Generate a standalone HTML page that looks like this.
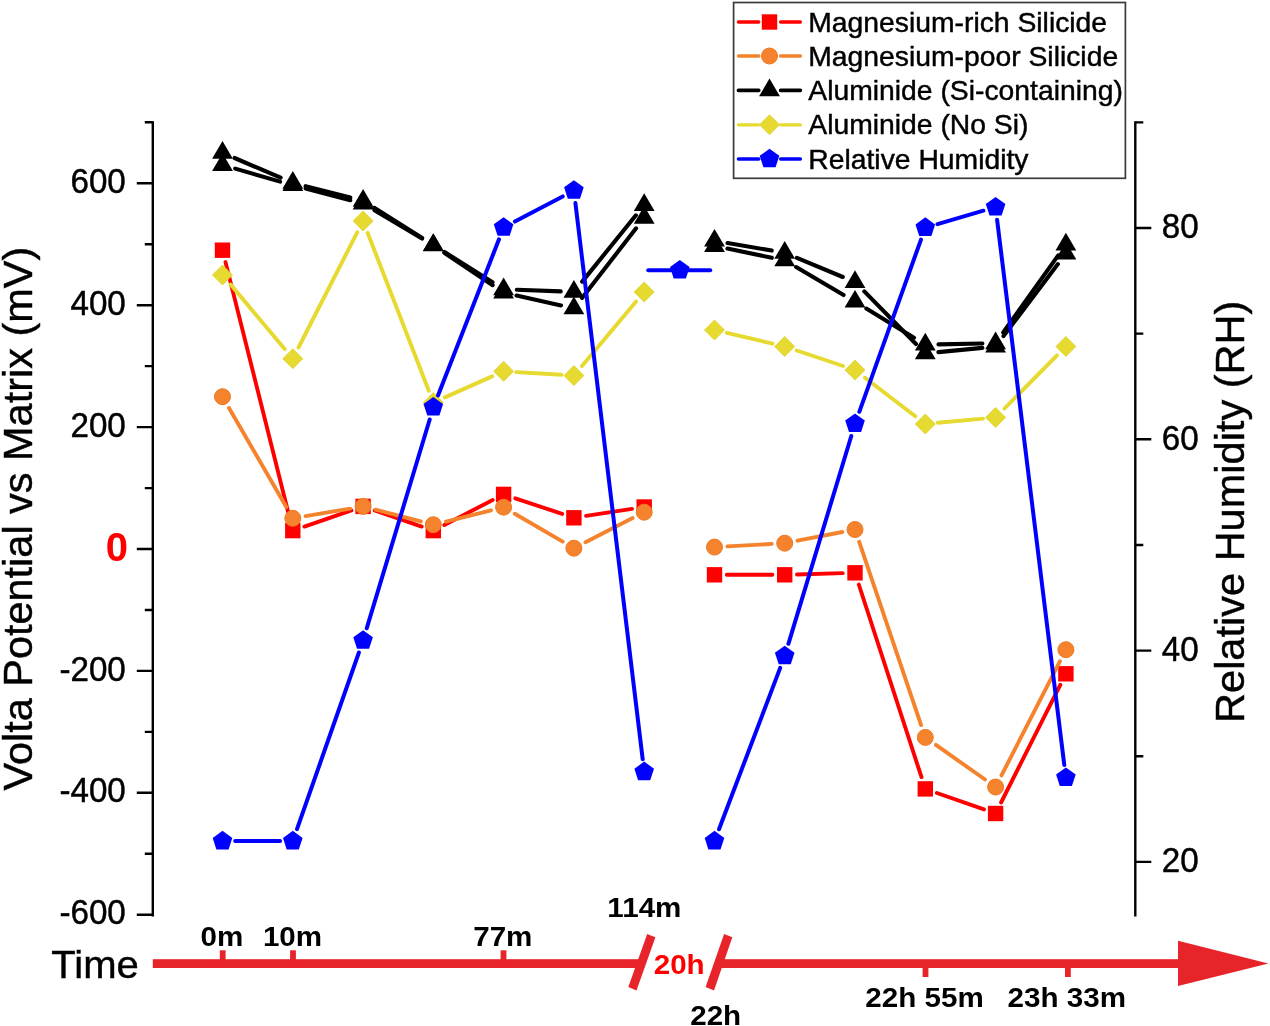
<!DOCTYPE html>
<html lang="en"><head><meta charset="utf-8"><title>Volta Potential vs Relative Humidity</title>
<style>html,body{margin:0;padding:0;background:#fff}svg{display:block}</style></head>
<body>
<svg width="1270" height="1026" viewBox="0 0 1270 1026" font-family='"Liberation Sans", sans-serif'>
<style>.t{stroke:#000;stroke-width:.45px;paint-order:stroke}</style>
<rect width="1270" height="1026" fill="#fff"/>
<g>
<path d="M225.5 262.1L289.8 518.7M304.4 526.6L351.4 510.4M374.7 510.4L421.7 526.6M444.3 525.0L492.7 500.0M515.3 498.3L562.2 513.9M586.1 515.9L632.0 508.9" stroke="#ff0000" stroke-width="3.9" fill="none" stroke-linecap="round"/>
<path d="M726.8 574.8L772.4 574.8M797.0 574.5L842.7 573.1M858.8 584.5L921.5 777.2M936.9 793.0L984.0 809.4M1001.1 802.5L1060.3 684.8" stroke="#ff0000" stroke-width="3.9" fill="none" stroke-linecap="round"/>
<rect x="214.8" y="242.5" width="15.4" height="15.4" fill="#ff0000"/>
<rect x="285.1" y="522.9" width="15.4" height="15.4" fill="#ff0000"/>
<rect x="355.4" y="498.7" width="15.4" height="15.4" fill="#ff0000"/>
<rect x="425.6" y="522.9" width="15.4" height="15.4" fill="#ff0000"/>
<rect x="495.9" y="486.7" width="15.4" height="15.4" fill="#ff0000"/>
<rect x="566.2" y="510.1" width="15.4" height="15.4" fill="#ff0000"/>
<rect x="636.5" y="499.3" width="15.4" height="15.4" fill="#ff0000"/>
<rect x="706.8" y="567.1" width="15.4" height="15.4" fill="#ff0000"/>
<rect x="777.0" y="567.1" width="15.4" height="15.4" fill="#ff0000"/>
<rect x="847.3" y="565.1" width="15.4" height="15.4" fill="#ff0000"/>
<rect x="917.6" y="781.2" width="15.4" height="15.4" fill="#ff0000"/>
<rect x="987.9" y="805.8" width="15.4" height="15.4" fill="#ff0000"/>
<rect x="1058.2" y="666.1" width="15.4" height="15.4" fill="#ff0000"/>
</g>
<g>
<path d="M229.0 408.0L286.3 507.0M305.6 516.1L350.2 508.6M375.6 509.7L420.8 521.4M446.0 521.6L491.0 510.3M514.8 513.8L562.7 541.6M585.5 542.3L632.6 518.1" stroke="#f5832d" stroke-width="3.9" fill="none" stroke-linecap="round"/>
<path d="M727.4 546.4L771.8 543.9M797.5 540.7L842.3 532.0M859.2 541.8L921.1 725.1M935.9 744.9L985.0 779.5M1001.5 775.4L1059.9 661.3" stroke="#f5832d" stroke-width="3.9" fill="none" stroke-linecap="round"/>
<circle cx="222.5" cy="396.7" r="8" fill="#f5832d" stroke="#ee7a22" stroke-width="1"/>
<circle cx="292.8" cy="518.3" r="8" fill="#f5832d" stroke="#ee7a22" stroke-width="1"/>
<circle cx="363.1" cy="506.4" r="8" fill="#f5832d" stroke="#ee7a22" stroke-width="1"/>
<circle cx="433.3" cy="524.7" r="8" fill="#f5832d" stroke="#ee7a22" stroke-width="1"/>
<circle cx="503.6" cy="507.2" r="8" fill="#f5832d" stroke="#ee7a22" stroke-width="1"/>
<circle cx="573.9" cy="548.2" r="8" fill="#f5832d" stroke="#ee7a22" stroke-width="1"/>
<circle cx="644.2" cy="512.2" r="8" fill="#f5832d" stroke="#ee7a22" stroke-width="1"/>
<circle cx="714.5" cy="547.1" r="8" fill="#f5832d" stroke="#ee7a22" stroke-width="1"/>
<circle cx="784.7" cy="543.2" r="8" fill="#f5832d" stroke="#ee7a22" stroke-width="1"/>
<circle cx="855.0" cy="529.5" r="8" fill="#f5832d" stroke="#ee7a22" stroke-width="1"/>
<circle cx="925.3" cy="737.4" r="8" fill="#f5832d" stroke="#ee7a22" stroke-width="1"/>
<circle cx="995.6" cy="787.0" r="8" fill="#f5832d" stroke="#ee7a22" stroke-width="1"/>
<circle cx="1065.9" cy="649.7" r="8" fill="#f5832d" stroke="#ee7a22" stroke-width="1"/>
</g>
<g>
<path d="M235.2 168.6L280.1 181.6M305.6 188.5L350.3 200.2M374.4 210.2L422.0 238.6M444.3 252.7L492.7 285.2M516.5 295.5L561.0 305.4M582.0 297.9L636.1 228.3" stroke="#000" stroke-width="4.1" fill="none" stroke-linecap="round"/>
<path d="M727.4 248.6L771.8 257.8M796.1 267.1L843.6 295.0M866.3 308.6L914.0 337.7M938.5 344.4L982.4 343.5M1003.2 332.5L1058.2 255.4" stroke="#000" stroke-width="4.1" fill="none" stroke-linecap="round"/>
<polygon points="222.5,153.2 232.9,170.9 212.1,170.9" fill="#000"/>
<polygon points="292.8,173.4 303.2,191.1 282.4,191.1" fill="#000"/>
<polygon points="363.1,191.7 373.5,209.4 352.7,209.4" fill="#000"/>
<polygon points="433.3,233.5 443.7,251.2 422.9,251.2" fill="#000"/>
<polygon points="503.6,280.8 514.0,298.5 493.2,298.5" fill="#000"/>
<polygon points="573.9,296.5 584.3,314.2 563.5,314.2" fill="#000"/>
<polygon points="644.2,206.1 654.6,223.8 633.8,223.8" fill="#000"/>
<polygon points="714.5,234.2 724.9,251.9 704.1,251.9" fill="#000"/>
<polygon points="784.7,248.6 795.1,266.3 774.3,266.3" fill="#000"/>
<polygon points="855.0,289.9 865.4,307.6 844.6,307.6" fill="#000"/>
<polygon points="925.3,332.8 935.7,350.5 914.9,350.5" fill="#000"/>
<polygon points="995.6,331.5 1006.0,349.2 985.2,349.2" fill="#000"/>
<polygon points="1065.9,232.8 1076.3,250.5 1055.5,250.5" fill="#000"/>
</g>
<g>
<path d="M234.6 158.0L280.6 177.7M305.6 186.2L350.3 197.5M374.2 207.8L422.2 238.0M444.5 252.0L492.5 282.3M516.8 289.8L560.7 291.4M582.2 281.6L635.9 215.3" stroke="#000" stroke-width="4.1" fill="none" stroke-linecap="round"/>
<path d="M727.5 243.0L771.7 250.6M796.9 257.9L842.8 277.0M864.3 291.4L916.0 344.0M938.4 352.1L982.4 347.9M1003.5 336.1L1057.9 264.1" stroke="#000" stroke-width="4.1" fill="none" stroke-linecap="round"/>
<polygon points="222.5,141.0 232.9,158.7 212.1,158.7" fill="#000"/>
<polygon points="292.8,171.1 303.2,188.8 282.4,188.8" fill="#000"/>
<polygon points="363.1,189.0 373.5,206.7 352.7,206.7" fill="#000"/>
<polygon points="433.3,233.2 443.7,250.9 422.9,250.9" fill="#000"/>
<polygon points="503.6,277.5 514.0,295.2 493.2,295.2" fill="#000"/>
<polygon points="573.9,280.1 584.3,297.8 563.5,297.8" fill="#000"/>
<polygon points="644.2,193.2 654.6,210.9 633.8,210.9" fill="#000"/>
<polygon points="714.5,228.9 724.9,246.6 704.1,246.6" fill="#000"/>
<polygon points="784.7,241.1 795.1,258.8 774.3,258.8" fill="#000"/>
<polygon points="855.0,270.2 865.4,287.9 844.6,287.9" fill="#000"/>
<polygon points="925.3,341.6 935.7,359.3 914.9,359.3" fill="#000"/>
<polygon points="995.6,334.8 1006.0,352.5 985.2,352.5" fill="#000"/>
<polygon points="1065.9,241.8 1076.3,259.5 1055.5,259.5" fill="#000"/>
</g>
<g>
<path d="M230.6 284.6L284.7 349.1M298.5 347.5L357.3 232.2M367.6 232.7L428.8 390.8M444.9 397.4L492.1 376.4M516.2 372.1L561.3 374.8M582.0 366.0L636.1 301.6" stroke="#e6d92f" stroke-width="3.9" fill="none" stroke-linecap="round"/>
<path d="M726.7 332.9L772.5 343.6M796.7 350.5L843.1 366.0M865.0 377.7L915.3 416.3M937.8 422.8L983.0 418.6M1004.5 408.5L1057.0 355.4" stroke="#e6d92f" stroke-width="3.9" fill="none" stroke-linecap="round"/>
<polygon points="222.5,265.0 232.5,275.0 222.5,285.0 212.5,275.0" fill="#e6d92f" stroke="#dfd127" stroke-width="0.8"/>
<polygon points="292.8,348.7 302.8,358.7 292.8,368.7 282.8,358.7" fill="#e6d92f" stroke="#dfd127" stroke-width="0.8"/>
<polygon points="363.1,211.0 373.1,221.0 363.1,231.0 353.1,221.0" fill="#e6d92f" stroke="#dfd127" stroke-width="0.8"/>
<polygon points="433.3,392.5 443.3,402.5 433.3,412.5 423.3,402.5" fill="#e6d92f" stroke="#dfd127" stroke-width="0.8"/>
<polygon points="503.6,361.3 513.6,371.3 503.6,381.3 493.6,371.3" fill="#e6d92f" stroke="#dfd127" stroke-width="0.8"/>
<polygon points="573.9,365.6 583.9,375.6 573.9,385.6 563.9,375.6" fill="#e6d92f" stroke="#dfd127" stroke-width="0.8"/>
<polygon points="644.2,282.0 654.2,292.0 644.2,302.0 634.2,292.0" fill="#e6d92f" stroke="#dfd127" stroke-width="0.8"/>
<polygon points="714.5,320.0 724.5,330.0 714.5,340.0 704.5,330.0" fill="#e6d92f" stroke="#dfd127" stroke-width="0.8"/>
<polygon points="784.7,336.5 794.7,346.5 784.7,356.5 774.7,346.5" fill="#e6d92f" stroke="#dfd127" stroke-width="0.8"/>
<polygon points="855.0,360.0 865.0,370.0 855.0,380.0 845.0,370.0" fill="#e6d92f" stroke="#dfd127" stroke-width="0.8"/>
<polygon points="925.3,414.0 935.3,424.0 925.3,434.0 915.3,424.0" fill="#e6d92f" stroke="#dfd127" stroke-width="0.8"/>
<polygon points="995.6,407.4 1005.6,417.4 995.6,427.4 985.6,417.4" fill="#e6d92f" stroke="#dfd127" stroke-width="0.8"/>
<polygon points="1065.9,336.5 1075.9,346.5 1065.9,356.5 1055.9,346.5" fill="#e6d92f" stroke="#dfd127" stroke-width="0.8"/>
</g>
<g>
<path d="M235.2 841.1L280.1 841.1M297.0 829.1L358.9 652.5M366.7 628.3L429.7 419.5M438.0 395.5L499.0 239.3M514.9 221.6L562.7 196.4M575.4 203.1L642.7 759.3" stroke="#0000ff" stroke-width="4.0" fill="none" stroke-linecap="round"/>
<path d="M719.0 829.2L780.2 667.9M788.4 643.8L851.3 436.0M859.3 411.8L921.0 239.6M937.5 224.1L983.4 210.7M997.1 219.8L1064.3 765.1" stroke="#0000ff" stroke-width="4.0" fill="none" stroke-linecap="round"/>
<polygon points="222.5,830.8 232.3,837.9 228.6,849.4 216.4,849.4 212.7,837.9" fill="#0000ff"/>
<polygon points="292.8,830.8 302.6,837.9 298.8,849.4 286.7,849.4 283.0,837.9" fill="#0000ff"/>
<polygon points="363.1,630.2 372.9,637.3 369.1,648.8 357.0,648.8 353.3,637.3" fill="#0000ff"/>
<polygon points="433.3,397.0 443.1,404.1 439.4,415.6 427.3,415.6 423.5,404.1" fill="#0000ff"/>
<polygon points="503.6,217.2 513.4,224.3 509.7,235.8 497.6,235.8 493.8,224.3" fill="#0000ff"/>
<polygon points="573.9,180.2 583.7,187.3 580.0,198.8 567.8,198.8 564.1,187.3" fill="#0000ff"/>
<polygon points="644.2,761.6 654.0,768.7 650.2,780.2 638.1,780.2 634.4,768.7" fill="#0000ff"/>
<polygon points="714.5,830.8 724.3,837.9 720.5,849.4 708.4,849.4 704.7,837.9" fill="#0000ff"/>
<polygon points="784.7,645.7 794.5,652.8 790.8,664.3 778.7,664.3 774.9,652.8" fill="#0000ff"/>
<polygon points="855.0,413.5 864.8,420.6 861.1,432.1 849.0,432.1 845.2,420.6" fill="#0000ff"/>
<polygon points="925.3,217.3 935.1,224.4 931.4,235.9 919.2,235.9 915.5,224.4" fill="#0000ff"/>
<polygon points="995.6,196.9 1005.4,204.0 1001.6,215.5 989.5,215.5 985.8,204.0" fill="#0000ff"/>
<polygon points="1065.9,767.4 1075.7,774.5 1071.9,786.0 1059.8,786.0 1056.1,774.5" fill="#0000ff"/>
</g>
<path d="M648.3 270.3H710.2" stroke="#0000ff" stroke-width="4.1" stroke-linecap="round"/>
<polygon points="679.8,260.0 689.6,267.1 685.9,278.6 673.7,278.6 670.0,267.1" fill="#0000ff"/>
<g stroke="#000" stroke-width="2.4" fill="none" stroke-linecap="butt">
<path d="M152.8 121.2V916.6"/>
<path d="M1135.3 121.2V916.6"/>
<path d="M136.8 914.7H152.8M144.8 853.8H152.8M136.8 792.8H152.8M144.8 731.9H152.8M136.8 670.9H152.8M144.8 610.0H152.8M136.8 549.0H152.8M144.8 488.1H152.8M136.8 427.1H152.8M144.8 366.1H152.8M136.8 305.2H152.8M144.8 244.2H152.8M136.8 183.3H152.8M144.8 122.3H152.8M1135.3 861.9h16M1135.3 756.2h8M1135.3 650.6h16M1135.3 545.0h8M1135.3 439.3h16M1135.3 333.6h8M1135.3 228.0h16M1135.3 122.4h8"/>
</g>
<text transform="translate(125.8 924.3) scale(0.97 1)" font-size="34.2" class="t" text-anchor="end">-600</text>
<text transform="translate(125.8 802.4) scale(0.97 1)" font-size="34.2" class="t" text-anchor="end">-400</text>
<text transform="translate(125.8 680.5) scale(0.97 1)" font-size="34.2" class="t" text-anchor="end">-200</text>
<text transform="translate(125.8 436.7) scale(0.97 1)" font-size="34.2" class="t" text-anchor="end">200</text>
<text transform="translate(125.8 314.8) scale(0.97 1)" font-size="34.2" class="t" text-anchor="end">400</text>
<text transform="translate(125.8 192.9) scale(0.97 1)" font-size="34.2" class="t" text-anchor="end">600</text>
<text x="128" y="560.6" font-size="40" font-weight="bold" fill="#ff0000" text-anchor="end">0</text>
<text transform="translate(1161.8 872.1) scale(0.97 1)" font-size="34.2" class="t">20</text>
<text transform="translate(1161.8 660.8) scale(0.97 1)" font-size="34.2" class="t">40</text>
<text transform="translate(1161.8 449.5) scale(0.97 1)" font-size="34.2" class="t">60</text>
<text transform="translate(1161.8 238.2) scale(0.97 1)" font-size="34.2" class="t">80</text>
<text transform="translate(32.2 518.6) rotate(-90) scale(1.004 1)" font-size="41.3" class="t" text-anchor="middle">Volta Potential vs Matrix (mV)</text>
<text transform="translate(1244.3 511.8) rotate(-90) scale(1.006 1)" font-size="41.3" class="t" text-anchor="middle">Relative Humidity (RH)</text>
<rect x="733.6" y="2.5" width="391.8" height="175.8" fill="#fff" stroke="#3a3a3a" stroke-width="1.7"/>
<path d="M738.4 22H758.8M780.6 22H800.4" stroke="#ff0000" stroke-width="3.3" stroke-linecap="round"/>
<rect x="761.8" y="14.3" width="15.4" height="15.4" fill="#ff0000"/>
<text x="808.3" y="31.6" font-size="28.3" class="t">Magnesium-rich Silicide</text>
<path d="M738.4 56H758.8M780.6 56H800.4" stroke="#f5832d" stroke-width="3.3" stroke-linecap="round"/>
<circle cx="769.5" cy="56.0" r="8" fill="#f5832d" stroke="#ee7a22" stroke-width="1"/>
<text x="808.3" y="65.6" font-size="28.3" class="t">Magnesium-poor Silicide</text>
<path d="M738.4 90.4H758.8M780.6 90.4H800.4" stroke="#000" stroke-width="3.6" stroke-linecap="round"/>
<polygon points="769.5,78.6 779.9,96.3 759.1,96.3" fill="#000"/>
<text x="808.3" y="100.0" font-size="28.3" class="t">Aluminide (Si-containing)</text>
<path d="M738.4 124.8H758.8M780.6 124.8H800.4" stroke="#e6d92f" stroke-width="3.3" stroke-linecap="round"/>
<polygon points="769.5,114.8 779.5,124.8 769.5,134.8 759.5,124.8" fill="#e6d92f" stroke="#dfd127" stroke-width="0.8"/>
<text x="808.3" y="134.4" font-size="28.3" class="t">Aluminide (No Si)</text>
<path d="M738.4 159H758.8M780.6 159H800.4" stroke="#0000ff" stroke-width="3.4" stroke-linecap="round"/>
<polygon points="769.5,148.7 779.3,155.8 775.6,167.3 763.4,167.3 759.7,155.8" fill="#0000ff"/>
<text x="808.3" y="168.6" font-size="28.3" class="t">Relative Humidity</text>
<g fill="#e8242b">
<rect x="152.8" y="959.2" width="488" height="8.8"/>
<rect x="722" y="959.2" width="458" height="8.8"/>
<polygon points="1178,940.7 1268.4,963.4 1178,986"/>
<polygon points="647.2,934 655.4,937.2 636.5,990.5 628.3,986.9"/>
<polygon points="724.1,934 732.3,937.2 714,990.5 705.6,986.9"/>
<rect x="219.8" y="950.3" width="5.8" height="10"/>
<rect x="290.1" y="950.3" width="5.8" height="10"/>
<rect x="500.6" y="950.3" width="5.8" height="10"/>
<rect x="922.6" y="967" width="5.8" height="10"/>
<rect x="1065.0" y="967" width="5.8" height="10"/>
</g>
<text transform="translate(51.3 977.5) scale(1.02 1)" font-size="39.3" class="t">Time</text>
<text transform="translate(221.9 945.6) scale(1.043 1)" font-size="28.4" font-weight="bold" text-anchor="middle" fill="#000">0m</text>
<text transform="translate(292.5 945.6) scale(1.043 1)" font-size="28.4" font-weight="bold" text-anchor="middle" fill="#000">10m</text>
<text transform="translate(502.8 945.6) scale(1.043 1)" font-size="28.4" font-weight="bold" text-anchor="middle" fill="#000">77m</text>
<text transform="translate(644.4 916.6) scale(1.043 1)" font-size="28.4" font-weight="bold" text-anchor="middle" fill="#000">114m</text>
<text transform="translate(679.2 974.1) scale(1.043 1)" font-size="28.4" font-weight="bold" text-anchor="middle" fill="#ff0000">20h</text>
<text transform="translate(715.7 1024.6) scale(1.043 1)" font-size="28.4" font-weight="bold" text-anchor="middle" fill="#000">22h</text>
<text transform="translate(924.5 1006.9) scale(1.043 1)" font-size="28.4" font-weight="bold" text-anchor="middle" fill="#000">22h 55m</text>
<text transform="translate(1066.8 1006.9) scale(1.043 1)" font-size="28.4" font-weight="bold" text-anchor="middle" fill="#000">23h 33m</text>
</svg>
</body></html>
